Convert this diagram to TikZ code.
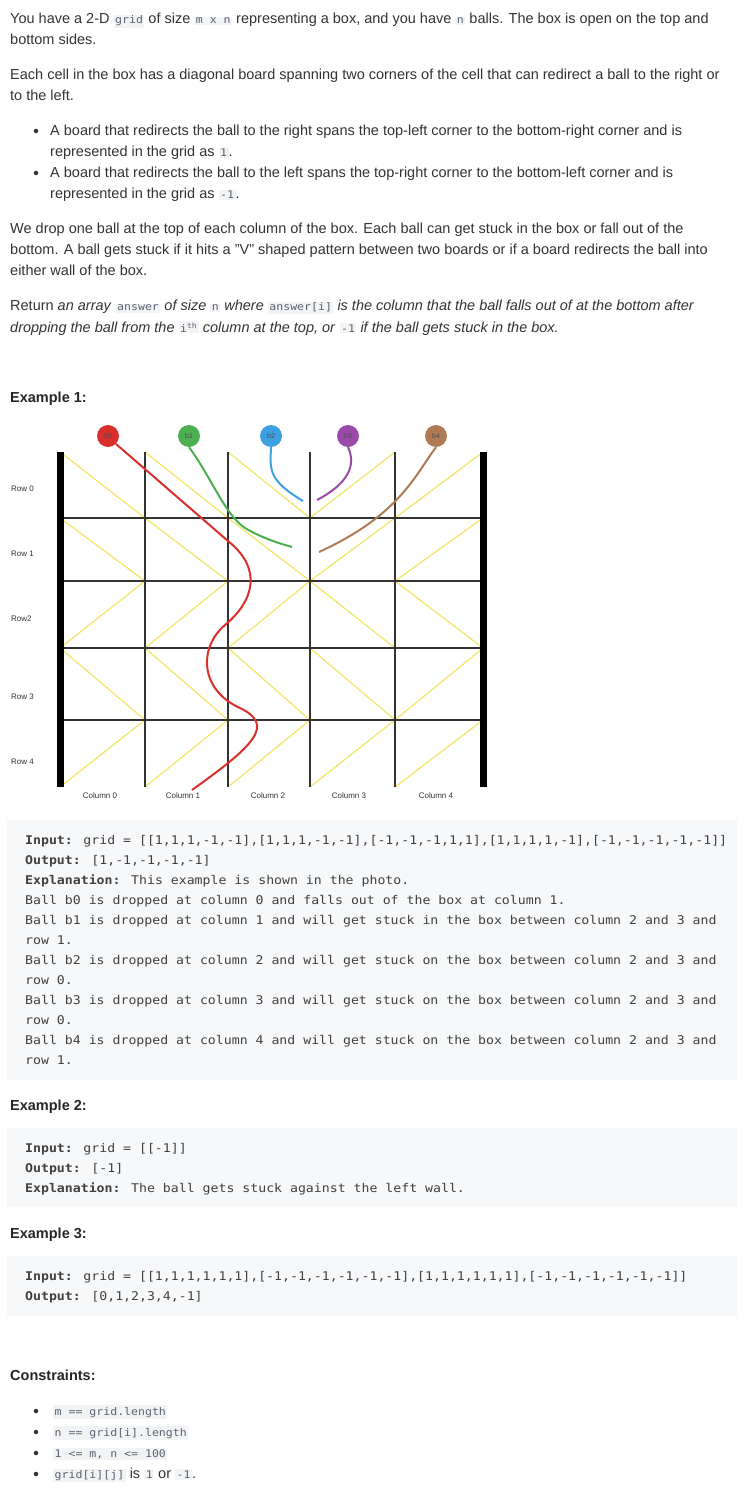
\documentclass[tikz,border=0pt]{standalone}
\usepackage{fontspec}
\setmainfont{Liberation Sans}
\newfontfamily\codefont[FakeStretch=1.1]{DejaVu Sans Mono}
\usetikzlibrary{positioning}
\definecolor{codebg}{HTML}{F7F8FA}
\definecolor{inlinebg}{HTML}{F2F3F5}
\definecolor{codegray}{HTML}{5A6270}
\definecolor{boardy}{HTML}{F2E35C}
\definecolor{ballred}{HTML}{D9302C}
\definecolor{ballgreen}{HTML}{4CAF50}
\definecolor{ballblue}{HTML}{3FA0E0}
\definecolor{ballpurple}{HTML}{9A4AA8}
\definecolor{ballbrown}{HTML}{B07A55}
\newcommand{\ic}[1]{{\setlength{\fboxsep}{1.5pt}\colorbox{inlinebg}{\codefont\fontsize{10.5}{10.5}\selectfont\color{codegray}#1}}}
\newcommand{\cb}[1]{{\bfseries #1}}

\begin{document}
\begin{tikzpicture}[x=1pt, y=-1pt,
    txt/.style={anchor=base west, inner sep=0pt, font=\fontsize{14.5}{14.5}\selectfont, text=black!80},
    head/.style={anchor=base west, inner sep=0pt, font=\fontsize{14.5}{14.5}\selectfont\bfseries, text=black!85},
    code/.style={anchor=base west, inner sep=0pt, font=\codefont\fontsize{12}{12}\selectfont, text=black!75},
    dot/.style={circle, fill=black!80, inner sep=0pt, minimum size=4.5pt},
    codebox/.style={fill=codebg, draw=none},
    board/.style={boardy, line width=1.1pt},
    gridline/.style={black!80, line width=1.4pt},
    wall/.style={black, line width=7pt},
    ball/.style={circle, inner sep=0pt, minimum size=22pt, font=\fontsize{7}{7}\selectfont, text=black!70},
    ballpath/.style={line width=2pt},
    lbl/.style={font=\fontsize{8}{8}\selectfont, text=black!80, inner sep=0pt}
]
\useasboundingbox[fill=white] (0,0) rectangle (744,1495);

% Statement
\node[txt] (l1) at (10,24) {You have a 2-D \ic{grid} of size \ic{m x n} representing a box, and you have \ic{n} balls. The box is open on the top and};
\node[txt] (l2) at (10,45) {bottom sides.};
\node[txt] (l3) at (10,80) {Each cell in the box has a diagonal board spanning two corners of the cell that can redirect a ball to the right or};
\node[txt] (l4) at (10,101) {to the left.};
\node[dot] (d1) at (36,131) {};
\node[txt] (l5) at (50,136) {A board that redirects the ball to the right spans the top-left corner to the bottom-right corner and is};
\node[txt] (l6) at (50,157) {represented in the grid as \ic{1}.};
\node[dot] (d2) at (36,173) {};
\node[txt] (l7) at (50,178) {A board that redirects the ball to the left spans the top-right corner to the bottom-left corner and is};
\node[txt] (l8) at (50,199) {represented in the grid as \ic{-1}.};
\node[txt] (l9) at (10,234) {We drop one ball at the top of each column of the box. Each ball can get stuck in the box or fall out of the};
\node[txt] (l10) at (10,255) {bottom. A ball gets stuck if it hits a "V" shaped pattern between two boards or if a board redirects the ball into};
\node[txt] (l11) at (10,276) {either wall of the box.};
\node[txt] (l12) at (10,311) {Return \textit{an array} \ic{answer} \textit{of size} \ic{n} \textit{where} \ic{answer[i]} \textit{is the column that the ball falls out of at the bottom after}};
\node[txt] (l13) at (10,332) {\textit{dropping the ball from the} \ic{i\textsuperscript{th}} \textit{column at the top, or} \ic{-1} \textit{if the ball gets stuck in the box.}};

\node[head] (ex1) at (10,402) {Example 1:};

% Box of boards
\def\colx{{60,145,228,310,395,483}}
\def\rowy{{452,518,581,648,720,787}}
\foreach \r/\vals in {0/{1,1,1,-1,-1}, 1/{1,1,1,-1,-1}, 2/{-1,-1,-1,1,1}, 3/{1,1,1,1,-1}, 4/{-1,-1,-1,-1,-1}} {
  \foreach \v [count=\c from 0] in \vals {
    \pgfmathsetmacro\xa{\colx[\c]}
    \pgfmathsetmacro\xb{\colx[\c+1]}
    \pgfmathsetmacro\ya{\rowy[\r]}
    \pgfmathsetmacro\yb{\rowy[\r+1]}
    \ifnum\v=1
      \draw[board] (\xa,\ya) -- (\xb,\yb);
    \else
      \draw[board] (\xb,\ya) -- (\xa,\yb);
    \fi
  }
}
\foreach \y in {518,581,648,720} \draw[gridline] (60,\y) -- (483,\y);
\foreach \x in {145,228,310,395} \draw[gridline] (\x,452) -- (\x,787);
\draw[wall] (60,452) -- (60,787);
\draw[wall] (483,452) -- (483,787);

% Row and column labels
\foreach \t/\y in {Row 0/489, Row 1/554, Row2/619, Row 3/697, Row 4/762}
  \node[lbl, anchor=west] at (11,\y) {\t};
\foreach \c/\x in {0/100, 1/183, 2/268, 3/349, 4/436}
  \node[lbl] (col\c) at (\x,796) {Column \c};

% Balls
\node[ball, fill=ballred] (b0) at (108,436) {b0};
\node[ball, fill=ballgreen] (b1) at (189,436) {b1};
\node[ball, fill=ballblue] (b2) at (271,436) {b2};
\node[ball, fill=ballpurple] (b3) at (348,436) {b3};
\node[ball, fill=ballbrown] (b4) at (436,436) {b4};

\coordinate (e0) at (192,790);
\coordinate (e1) at (292,547);
\coordinate (e2) at (303,501);
\coordinate (e3) at (317,500);
\coordinate (e4) at (319,552);

\draw[ballpath, ballred] (b0.south east) -- (228,541) .. controls (262,568) and (255,600) .. (225,625) .. controls (198,648) and (200,690) .. (240,708) .. controls (275,725) and (255,745) .. (e0);
\draw[ballpath, ballgreen] (b1.south) .. controls (210,475) and (225,515) .. (245,528) .. controls (262,538) and (278,543) .. (e1);
\draw[ballpath, ballblue] (b2.south) .. controls (270,470) and (268,480) .. (e2);
\draw[ballpath, ballpurple] (b3.south) .. controls (354,460) and (355,480) .. (e3);
\draw[ballpath, ballbrown] (b4.south) .. controls (415,475) and (400,515) .. (e4);

% Example 1 code
\fill[codebox] (7,820) rectangle (737,1080);
\node[code] (c1) at (25,844) {\cb{Input:} grid = [[1,1,1,-1,-1],[1,1,1,-1,-1],[-1,-1,-1,1,1],[1,1,1,1,-1],[-1,-1,-1,-1,-1]]};
\node[code] (c2) at (25,864) {\cb{Output:} [1,-1,-1,-1,-1]};
\node[code] (c3) at (25,884) {\cb{Explanation:} This example is shown in the photo.};
\node[code] (c4) at (25,904) {Ball b0 is dropped at column 0 and falls out of the box at column 1.};
\node[code] (c5) at (25,924) {Ball b1 is dropped at column 1 and will get stuck in the box between column 2 and 3 and};
\node[code] (c6) at (25,944) {row 1.};
\node[code] (c7) at (25,964) {Ball b2 is dropped at column 2 and will get stuck on the box between column 2 and 3 and};
\node[code] (c8) at (25,984) {row 0.};
\node[code] (c9) at (25,1004) {Ball b3 is dropped at column 3 and will get stuck on the box between column 2 and 3 and};
\node[code] (c10) at (25,1024) {row 0.};
\node[code] (c11) at (25,1044) {Ball b4 is dropped at column 4 and will get stuck on the box between column 2 and 3 and};
\node[code] (c12) at (25,1064) {row 1.};

% Example 2
\node[head] (ex2) at (10,1110) {Example 2:};
\fill[codebox] (7,1128) rectangle (737,1207);
\node[code] (d1c) at (25,1152) {\cb{Input:} grid = [[-1]]};
\node[code] (d2c) at (25,1172) {\cb{Output:} [-1]};
\node[code] (d3c) at (25,1192) {\cb{Explanation:} The ball gets stuck against the left wall.};

% Example 3
\node[head] (ex3) at (10,1238) {Example 3:};
\fill[codebox] (7,1256) rectangle (737,1316);
\node[code] (f1) at (25,1280) {\cb{Input:} grid = [[1,1,1,1,1,1],[-1,-1,-1,-1,-1,-1],[1,1,1,1,1,1],[-1,-1,-1,-1,-1,-1]]};
\node[code] (f2) at (25,1300) {\cb{Output:} [0,1,2,3,4,-1]};

% Constraints
\node[head] (cons) at (10,1380) {Constraints:};
\foreach \y/\t in {1411/{\ic{m == grid.length}}, 1432/{\ic{n == grid[i].length}}, 1453/{\ic{1 <= m, n <= 100}}, 1474/{\ic{grid[i][j]} is \ic{1} or \ic{-1}.}} {
  \node[dot] at (36,\y) {};
  \node[txt] at (53,\y+4) {\t};
}
\end{tikzpicture}
\end{document}
